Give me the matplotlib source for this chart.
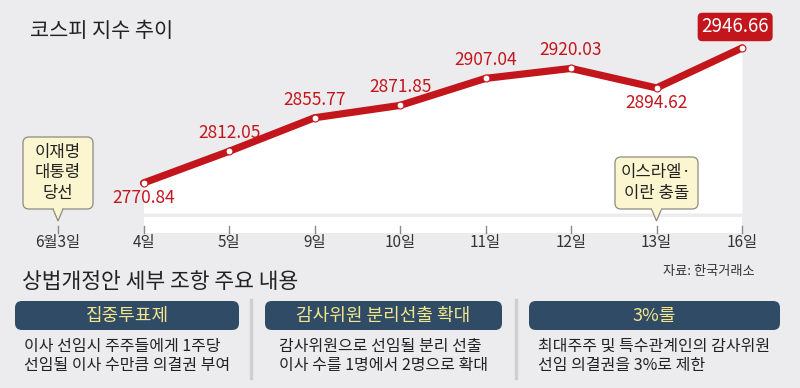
import matplotlib.pyplot as plt
from matplotlib.patches import FancyBboxPatch, Polygon, Rectangle
import numpy as np

plt.rcParams['font.family'] = ['Noto Sans CJK KR', 'DejaVu Sans']

# data --------------------------------------------------------------------
dates = ["6월3일", "4일", "5일", "9일", "10일", "11일", "12일", "13일", "16일"]
kospi = [np.nan, 2770.84, 2812.05, 2855.77, 2871.85, 2907.04, 2920.03, 2894.62, 2946.66]
label_pos = ["", "below", "above", "above", "above", "above", "above", "below", "box"]

events = {0: "이재명\n대통령\n당선", 7: "이스라엘·\n이란 충돌"}

sections = ["집중투표제", "감사위원 분리선출 확대", "3%룰"]
section_text = [
    "이사 선임시 주주들에게 1주당\n선임될 이사 수만큼 의결권 부여",
    "감사위원으로 선임될 분리 선출\n이사 수를 1명에서 2명으로 확대",
    "최대주주 및 특수관계인의 감사위원\n선임 의결권을 3%로 제한",
]

# colours -----------------------------------------------------------------
BG = "#ececee"
RED = "#c3161c"
NAVY = "#2f4b66"
YELLOW_TXT = "#f3e68c"
NOTE_FC = "#fbf6d0"
NOTE_EC = "#8c8c80"

W, H = 800, 388
fig = plt.figure(figsize=(W / 100, H / 100), dpi=100)
fig.patch.set_facecolor(BG)

# axes covering full figure, scaled so index step = 85.5 px, 1 point = 0.768 px
x0_px, step_px = 58, 85.5
y_ref_px, y_ref, ppu = 183, 2770.84, 0.768
ax = fig.add_axes([0, 0, 1, 1])
ax.set_xlim(-x0_px / step_px, (W - x0_px) / step_px)
ax.set_ylim(y_ref - (H - y_ref_px) / ppu, y_ref + y_ref_px / ppu)
ax.axis("off")
aspect = step_px / ppu


def py(v):  # pixel y (from top) -> data y
    return y_ref - (v - y_ref_px) / ppu


def px(v):
    return (v - x0_px) / step_px


x = np.arange(len(dates))
vals = np.array(kospi)
m = ~np.isnan(vals)

# white area under the line
ax.fill_between(x[m], vals[m], py(213), color="white", lw=0, zorder=1)
ax.add_patch(Rectangle((x[m][0], py(233)), x[m][-1] - x[m][0], py(217) - py(233),
                       fc="white", ec="none", zorder=1))

ax.plot(x[m], vals[m], color=RED, lw=5.2, solid_capstyle="round", zorder=3)
ax.plot(x[m], vals[m], "o", ms=5, mfc="white", mec=RED, mew=0.8, zorder=4)

for i, (v, pos) in enumerate(zip(kospi, label_pos)):
    if np.isnan(v):
        continue
    s = f"{v:.2f}"
    if pos == "below":
        ax.text(x[i], v - 15 / ppu, s, color=RED, fontsize=12.5, ha="center", va="center", zorder=5)
    elif pos == "above":
        ax.text(x[i], v + 18 / ppu, s, color=RED, fontsize=12.5, ha="center", va="center", zorder=5)
    else:
        ax.text(x[i] - 0.08, v + 21 / ppu, s, color="white", fontsize=13.5, ha="center", va="center",
                zorder=5, bbox=dict(boxstyle="round,pad=0.2,rounding_size=0.25", fc=RED, ec="none"))

# ticks and tick labels
for i, d in enumerate(dates):
    ax.plot([x[i], x[i]], [py(226), py(233)], color="#8a8a8a", lw=1, zorder=2)
    ax.text(x[i], py(242), d, fontsize=11, color="#333333", ha="center", va="center")

# event callouts
for i, txt in events.items():
    nlines = txt.count("\n") + 1
    h = 20 * nlines + 12
    bw = 70 if nlines == 3 else 83
    cx = x0_px + step_px * i
    box = FancyBboxPatch((px(cx - bw / 2), py(209)), bw / step_px, h / ppu,
                         boxstyle="round,pad=0,rounding_size=0.07", mutation_aspect=aspect,
                         fc=NOTE_FC, ec=NOTE_EC, lw=0.9, zorder=5)
    ax.add_patch(box)
    tri = Polygon([(px(cx - 5), py(209)), (px(cx), py(221)), (px(cx + 5), py(209))],
                  closed=False, fc=NOTE_FC, ec=NOTE_EC, lw=0.9, zorder=6)
    ax.add_patch(tri)
    ax.add_patch(Rectangle((px(cx - 4.3), py(209.8)), 8.6 / step_px, 2 / ppu, fc=NOTE_FC, ec="none", zorder=7))
    ax.text(px(cx), py(209 - h / 2), txt, fontsize=12, ha="center", va="center",
            linespacing=1.3, color="#222222", zorder=8)

# titles
fig.text(30 / W, 1 - 31 / H, "코스피 지수 추이", fontsize=15, color="#222222", va="center", ha="left")
fig.text(22 / W, 1 - 282 / H, "상법개정안 세부 조항 주요 내용", fontsize=15.5, color="#222222",
         va="center", ha="left")
fig.text(755 / W, 1 - 272 / H, "자료: 한국거래소", fontsize=9.5, color="#333333", va="center", ha="right")

# bottom panel
box_x = [(15, 239), (265, 502), (529, 780)]
for (l, r), head, body in zip(box_x, sections, section_text):
    hb = FancyBboxPatch((px(l), py(330)), (r - l) / step_px, 29 / ppu,
                        boxstyle="round,pad=0,rounding_size=0.08",
                        mutation_aspect=aspect, fc=NAVY, ec="none", zorder=5)
    ax.add_patch(hb)
    ax.text(px((l + r) / 2), py(315.5), head, fontsize=13, color=YELLOW_TXT,
            ha="center", va="center", zorder=6)
    ax.text(px((l + r) / 2), py(356), body, fontsize=11.5, color="#222222",
            ha="center", va="center", multialignment="left", linespacing=1.2, zorder=6)

for sx in (251, 516):
    ax.plot([px(sx), px(sx)], [py(300), py(378)], color="#cfcfd1", lw=2.5, zorder=2)

fig.savefig("out.png", dpi=100, facecolor=BG)
